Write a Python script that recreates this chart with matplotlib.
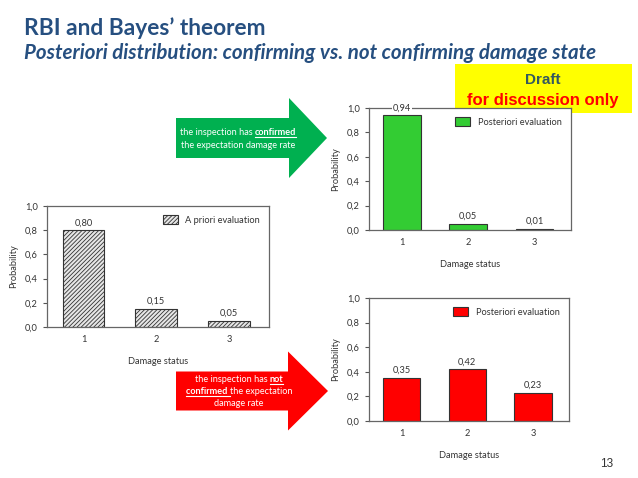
import matplotlib.pyplot as plt
from matplotlib.patches import FancyArrow, Rectangle
from matplotlib.ticker import FuncFormatter

plt.rcParams['font.family'] = ['Lato', 'DejaVu Sans']
plt.rcParams['hatch.color'] = '#505050'
plt.rcParams['hatch.linewidth'] = 0.6

status = [1, 2, 3]
prior = [0.80, 0.15, 0.05]
post_confirmed = [0.94, 0.05, 0.01]
post_not_confirmed = [0.35, 0.42, 0.23]

W, H = 638, 478
fig = plt.figure(figsize=(W / 100, H / 100), dpi=100)
renderer = fig.canvas.get_renderer()


def px_axes(l, t, r, b):
	return fig.add_axes([l / W, 1 - b / H, (r - l) / W, (b - t) / H])


def comma(v, pos=None):
	return f"{v:.1f}".replace('.', ',')


def bar_chart(ax, values, label, **style):
	bars = ax.bar(status, values, width=0.57, edgecolor='#333333', linewidth=0.8, label=label, **style)
	labels = [f"{v:.2f}".replace('.', ',') for v in values]
	txt = ax.bar_label(bars, labels=labels, padding=2, fontsize=6.7, color='#333333')
	for t in txt:
		t.set_bbox(dict(fc='white', ec='none', pad=0.5))
	ax.set_ylim(0, 1.0)
	ax.set_xlim(0.5, 3.55)
	ax.set_xticks(status)
	ax.set_yticks([0, 0.2, 0.4, 0.6, 0.8, 1.0])
	ax.yaxis.set_major_formatter(FuncFormatter(comma))
	ax.tick_params(axis='x', length=0, pad=6, labelsize=6.7, labelcolor='#333333')
	ax.tick_params(axis='y', length=3, width=0.8, labelsize=6.7, labelcolor='#333333', color='#555555')
	for s in ax.spines.values():
		s.set_color('#666666')
		s.set_linewidth(0.9)
	ax.set_xlabel("Damage status", fontsize=6.7, labelpad=9, color='#333333')
	ax.set_ylabel("Probability", fontsize=6.7, labelpad=5, color='#333333')
	ax.legend(loc='upper right', frameon=False, fontsize=6.7, handlelength=1.6, handleheight=1.0,
		borderaxespad=0.6, labelcolor='#333333')


ax1 = px_axes(47, 206, 269, 327)
bar_chart(ax1, prior, "A priori evaluation", color='#e6e6e6', hatch='////////')

ax2 = px_axes(369, 108, 571, 230)
bar_chart(ax2, post_confirmed, "Posteriori evaluation", color='#33cc33')

ax3 = px_axes(369, 298, 569, 421)
bar_chart(ax3, post_not_confirmed, "Posteriori evaluation", color='#ff0000')

# overlay for slide decorations (pixel coordinates, y down)
deco = fig.add_axes([0, 0, 1, 1], zorder=-1)
deco.set_xlim(0, W)
deco.set_ylim(H, 0)
deco.axis('off')


def rich_line(cx, y, parts, size=6.6, color='white'):
	# parts: list of (text, bold_underlined)
	texts = []
	for s, strong in parts:
		t = deco.text(0, y, s, fontsize=size, color=color, va='baseline', ha='left',
			fontweight='bold' if strong else 'normal')
		texts.append((t, strong))
	widths = [t.get_window_extent(renderer).width for t, _ in texts]
	x = cx - sum(widths) / 2
	for (t, strong), w in zip(texts, widths):
		t.set_x(x)
		if strong:
			deco.plot([x, x + w], [y + 1.5, y + 1.5], color=color, lw=0.8)
		x += w


deco.text(24, 35, "RBI and Bayes\u2019 theorem", fontsize=16.4, fontweight='bold', color='#264f80', va='baseline')
deco.text(24, 59, "Posteriori distribution: confirming vs. not confirming damage state", fontsize=14.8,
	fontweight='bold', fontstyle='italic', color='#264f80', va='baseline')

deco.add_patch(Rectangle((455, 64), 177, 49, fc='#ffff00', ec='none'))
deco.text(543, 84, "Draft", fontsize=11, fontweight='bold', color='#34595f', ha='center', va='baseline',
	family='Liberation Sans')
deco.text(543, 105, "for discussion only", fontsize=12, fontweight='bold', color='#ff0000', ha='center',
	va='baseline', family='Liberation Sans')

fig.add_artist(FancyArrow(176 / W, 1 - 138 / H, 151 / W, 0, width=40 / H, head_width=80 / H,
	head_length=38 / W, length_includes_head=True, fc='#00b050', ec='none', transform=fig.transFigure, zorder=-2))
rich_line(238, 135, [("the inspection has ", False), ("confirmed", True)])
rich_line(238, 148, [("the expectation damage rate", False)])

fig.add_artist(FancyArrow(176 / W, 1 - 391 / H, 152 / W, 0, width=39 / H, head_width=79 / H,
	head_length=40 / W, length_includes_head=True, fc='#ff0000', ec='none', transform=fig.transFigure, zorder=-2))
rich_line(239, 382, [("the inspection has ", False), ("not", True)])
rich_line(239, 394, [("confirmed ", True), ("the expectation", False)])
rich_line(239, 406, [("damage rate", False)])

deco.text(607, 467, "13", fontsize=8.5, color='#333333', ha='center', va='baseline', family='Liberation Sans')

fig.savefig("out.png", dpi=100)
